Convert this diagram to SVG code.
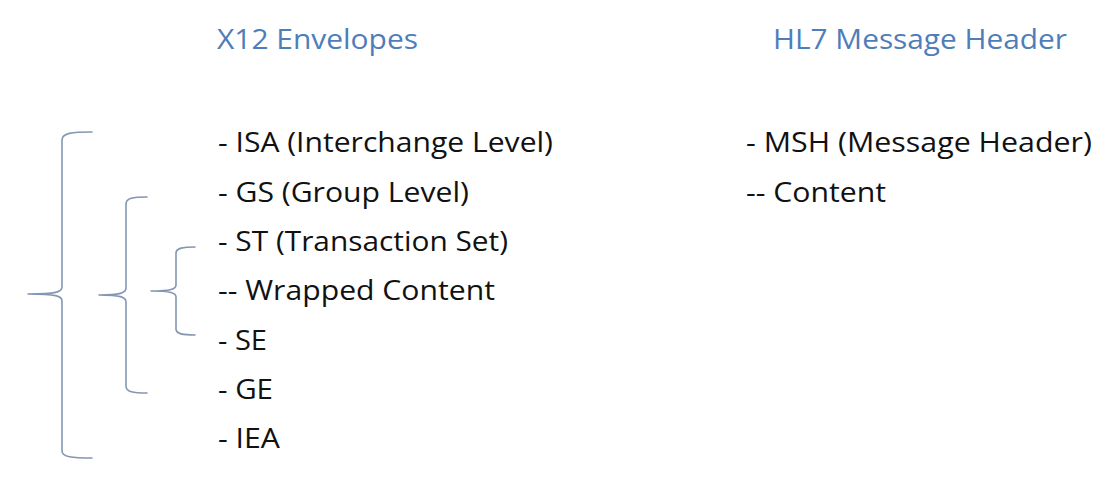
<svg xmlns="http://www.w3.org/2000/svg" width="1110" height="485" viewBox="0 0 1110 485">
<style>
.t{font-family:"Open Sans","Noto Sans","Liberation Sans",sans-serif;font-size:27.5px;fill:#111111}
.h{font-family:"Open Sans","Noto Sans","Liberation Sans",sans-serif;font-size:26.5px;fill:#4f7dba}
.b{fill:none;stroke:#8496b2;stroke-width:1.6;stroke-linecap:round;stroke-linejoin:round}
</style>
<rect width="1110" height="485" fill="#ffffff"/>
<g id="braces">
<path class="b" d="M92,132 C72,132 62,133 62,140 L62,287 C62,292 56,294 28,294 C56,294 62,296 62,301 L62,451 C62,457 72,458 92,458"/>
<path class="b" d="M147,197 C133,197 126,198 126,204 L126,288 C126,293 120,295 99,295 C120,295 126,297 126,302 L126,386 C126,392 133,393 147,393"/>
<path class="b" d="M195,247 C183,247 176,248 176,253 L176,285 C176,289 171,291 151,291 C171,291 176,293 176,297 L176,329 C176,334 183,335 195,335"/>
</g>
<g id="title-x12"><text class="h" x="217" y="49" textLength="201" lengthAdjust="spacingAndGlyphs">X12 Envelopes</text></g>
<g id="title-hl7"><text class="h" x="773" y="49" textLength="294" lengthAdjust="spacingAndGlyphs">HL7 Message Header</text></g>
<g id="isa"><text class="t" x="218" y="152" textLength="335" lengthAdjust="spacingAndGlyphs">- ISA (Interchange Level)</text></g>
<g id="gs"><text class="t" x="218" y="201.5" textLength="251" lengthAdjust="spacingAndGlyphs">- GS (Group Level)</text></g>
<g id="st"><text class="t" x="218" y="251" textLength="290" lengthAdjust="spacingAndGlyphs">- ST (Transaction Set)</text></g>
<g id="wrapped"><text class="t" x="218" y="300" textLength="277" lengthAdjust="spacingAndGlyphs">-- Wrapped Content</text></g>
<g id="se"><text class="t" x="218" y="349.5" textLength="49" lengthAdjust="spacingAndGlyphs">- SE</text></g>
<g id="ge"><text class="t" x="218" y="399" textLength="55" lengthAdjust="spacingAndGlyphs">- GE</text></g>
<g id="iea"><text class="t" x="218" y="448" textLength="62" lengthAdjust="spacingAndGlyphs">- IEA</text></g>
<g id="msh"><text class="t" x="746" y="152" textLength="346" lengthAdjust="spacingAndGlyphs">- MSH (Message Header)</text></g>
<g id="content"><text class="t" x="746" y="201.5" textLength="140" lengthAdjust="spacingAndGlyphs">-- Content</text></g>
</svg>
